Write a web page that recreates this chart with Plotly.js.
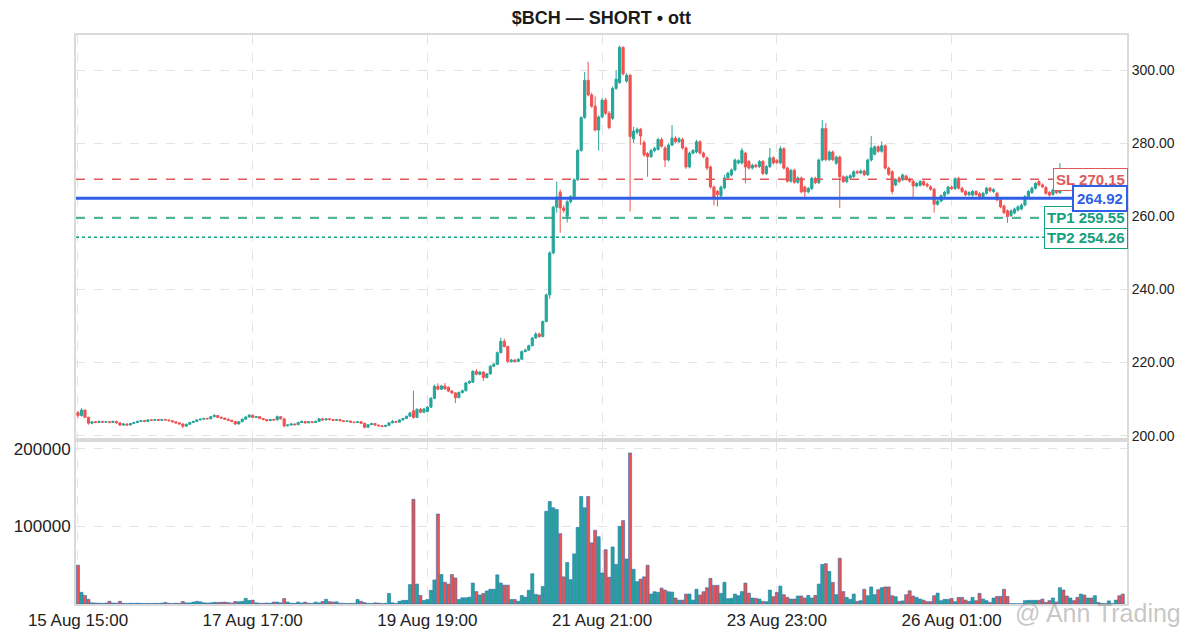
<!DOCTYPE html>
<html><head><meta charset="utf-8">
<script src="https://cdn.plot.ly/plotly-3.0.1.min.js"></script>
<style>html,body{margin:0;padding:0;background:#fff}#chart{width:1186px;height:638px}</style>
</head><body><div id="chart"></div>
<script>
// Hourly candles, hour 0 = 15 Aug 15:00
const tickHours = [0, 50, 100, 150, 200, 250];
const tickLabels = ["15 Aug 15:00","17 Aug 17:00","19 Aug 19:00","21 Aug 21:00","23 Aug 23:00","26 Aug 01:00"];

const open = [
206.3,205.5,207.0,205.0,203.4,203.8,203.6,203.9,203.7,203.8,
203.6,203.9,203.5,202.9,203.2,202.9,203.3,203.6,203.9,204.1,
203.9,204.3,204.2,204.4,204.2,204.4,204.3,204.1,203.8,203.5,
203.2,202.6,203.1,203.6,203.9,204.3,204.5,204.7,204.6,205.2,
205.5,205.0,204.8,204.5,204.2,203.9,203.2,203.8,204.5,205.1,
205.6,205.0,205.2,204.7,204.4,204.1,204.4,204.3,205.2,204.6,
202.7,202.9,203.2,203.0,203.6,203.9,203.5,203.8,203.6,203.9,
204.6,204.3,204.6,204.4,204.2,204.4,204.1,203.9,204.0,203.7,
203.6,203.8,203.4,202.3,203.0,203.3,202.9,202.7,202.5,202.8,
203.5,203.9,203.7,204.3,204.7,205.3,206.8,205.0,207.2,206.4,
206.6,207.8,210.2,213.5,212.7,213.6,213.2,212.2,211.7,210.4,
211.8,212.3,214.4,214.6,217.6,216.8,217.4,215.9,216.9,219.0,
219.5,222.7,225.8,224.4,220.3,220.7,220.3,220.9,223.0,223.4,
224.6,226.7,227.8,227.1,231.2,238.5,250.0,262.5,266.6,262.3,
260.0,264.0,265.4,270.0,278.0,287.0,297.2,293.2,290.1,283.6,
287.2,291.8,288.2,286.8,295.0,296.6,306.2,297.0,298.6,281.2,
283.0,283.8,280.2,277.2,276.3,278.0,278.3,281.0,278.7,275.4,
279.5,281.4,280.4,281.0,278.7,273.5,277.3,277.6,280.4,277.3,
276.0,273.5,268.0,266.8,265.6,267.8,270.5,271.3,272.7,274.6,
274.6,277.3,275.0,273.2,274.0,273.6,275.0,271.7,273.6,276.0,
275.3,274.6,278.5,273.2,269.6,272.6,269.3,270.5,268.0,266.7,
267.6,270.4,269.2,275.4,284.0,275.5,277.6,274.5,276.2,270.8,
269.5,270.5,270.9,272.2,271.9,272.4,271.4,275.4,277.0,279.0,
277.8,279.3,273.2,272.2,268.6,270.5,270.0,271.0,270.2,269.6,
268.3,268.5,269.5,268.8,268.1,267.4,263.3,264.2,265.6,266.3,
268.0,267.6,270.4,267.7,266.8,265.9,265.8,266.8,266.2,265.4,
266.3,267.7,266.8,266.3,264.5,262.8,261.5,260.2,260.9,261.7,
262.0,263.1,265.4,266.5,267.7,269.5,268.6,267.9,266.5,266.0,
267.2,266.5,268.5,268.2,267.6,268.0,267.3,266.8,267.2,266.5,
266.9,266.2,266.6,265.9,266.3,265.6,266.0,265.3,265.7,265.1];

const high = [
206.8,207.5,207.2,205.2,204.0,204.0,204.1,204.0,204.0,204.0,
204.1,204.1,203.6,203.4,203.3,203.5,203.8,204.1,204.3,204.2,
204.5,204.5,204.6,204.5,204.6,204.6,204.4,204.2,203.9,203.6,
203.3,203.3,203.8,204.1,204.5,204.7,204.9,204.9,205.4,205.9,
205.6,205.2,204.9,204.7,204.3,204.0,204.0,204.7,205.3,205.9,
205.7,205.4,205.3,204.8,204.5,204.6,204.6,205.5,205.3,204.7,
203.1,203.4,203.3,203.8,204.1,204.0,204.0,203.9,204.1,204.8,
204.7,204.8,204.7,204.5,204.6,204.5,204.2,204.2,204.1,203.9,
204.0,203.9,203.5,203.2,203.5,203.4,203.0,202.8,203.0,203.7,
204.3,204.0,204.5,204.9,205.5,206.5,212.3,207.5,207.6,207.6,
208.1,210.6,214.0,214.3,213.9,214.4,213.5,212.5,211.9,212.1,
212.6,214.7,215.2,217.9,218.2,217.7,217.6,217.2,219.3,219.9,
223.0,226.8,226.5,224.6,221.0,220.9,221.2,223.3,223.8,224.9,
227.0,228.3,228.2,231.5,238.9,250.4,262.9,269.5,267.3,263.0,
264.4,265.8,270.4,278.4,287.4,299.5,302.3,293.8,292.8,287.6,
292.3,292.4,288.8,295.5,300.0,306.7,306.5,299.2,299.0,284.5,
284.3,284.2,280.8,277.6,278.5,279.0,281.5,281.6,279.2,280.0,
285.0,281.9,281.7,281.5,279.1,277.7,278.4,280.9,280.8,277.7,
276.4,273.9,268.4,267.2,268.4,271.3,272.2,273.1,275.8,275.6,
278.7,277.7,275.4,274.4,274.4,275.4,275.4,274.0,278.7,276.4,
275.7,279.2,278.9,273.6,273.0,273.0,270.9,270.9,268.4,268.0,
270.8,270.8,275.8,286.3,285.5,278.0,278.0,276.6,276.6,271.2,
271.2,271.5,272.6,272.6,272.8,272.8,275.8,282.0,279.4,279.4,
280.5,279.7,273.6,272.6,270.4,270.9,271.7,271.4,270.6,270.0,
269.4,269.9,269.9,269.2,268.5,267.8,264.6,266.0,267.0,268.4,
268.4,270.7,270.8,268.1,267.2,266.9,267.2,267.2,266.6,266.7,
268.1,268.1,267.7,266.7,264.9,263.2,261.9,261.9,262.4,263.0,
263.5,265.8,267.2,268.1,269.4,269.9,269.0,268.3,266.9,267.6,
267.6,274.6,268.9,268.6,268.4,268.4,267.7,267.6,267.6,267.3,
267.3,267.0,267.0,266.7,266.7,266.4,266.4,266.1,266.1,265.5];

const low = [
204.9,205.2,204.8,203.0,203.1,203.4,203.5,203.5,203.5,203.4,
203.5,203.3,202.6,202.7,202.7,202.8,203.2,203.5,203.8,203.7,
203.8,204.0,204.1,204.0,204.1,204.1,203.9,203.6,203.3,203.0,
202.1,202.5,203.0,203.5,203.8,204.2,204.4,204.4,204.5,205.0,
204.8,204.6,204.3,204.0,203.7,202.9,203.1,203.7,204.4,205.0,
204.8,204.9,204.5,204.2,203.9,204.0,204.1,204.2,204.4,202.3,
202.5,202.8,202.8,202.9,203.5,203.3,203.4,203.4,203.5,203.8,
204.1,204.2,204.2,204.0,204.1,203.9,203.7,203.8,203.5,203.4,
203.5,203.2,202.0,202.2,202.9,202.7,202.5,202.3,202.4,202.7,
203.4,203.5,203.6,204.2,204.6,205.2,204.6,204.8,206.1,206.2,
206.4,207.6,210.0,212.4,212.5,212.6,211.9,211.4,208.9,210.2,
211.5,212.1,214.1,214.4,216.5,216.5,215.0,215.7,216.7,218.7,
219.3,222.5,224.1,219.9,220.0,220.0,220.1,220.7,222.8,223.2,
224.4,226.5,226.8,226.9,231.0,237.5,249.6,261.0,255.5,261.0,
258.3,263.5,265.1,269.7,277.7,286.7,292.8,289.7,283.2,278.0,
286.8,287.7,283.8,286.4,294.6,296.2,298.5,296.5,261.3,280.0,
282.4,279.5,276.3,270.8,276.0,277.5,278.0,278.8,273.5,275.0,
279.2,280.0,280.0,278.3,273.0,273.1,276.9,277.2,276.9,275.9,
272.6,267.6,263.0,262.7,265.2,267.4,270.1,270.9,272.3,274.2,
274.2,269.0,272.8,272.8,273.2,273.2,271.3,271.3,273.2,274.2,
274.3,274.2,272.8,269.2,269.2,268.9,268.9,266.3,265.3,266.3,
267.2,268.8,268.8,275.0,275.1,275.1,275.1,274.1,262.3,269.1,
269.1,270.1,270.5,271.5,271.5,271.0,271.0,275.0,276.6,277.4,
277.4,272.8,271.1,266.0,268.2,269.1,269.6,269.8,269.2,265.3,
267.9,268.1,268.2,267.9,267.0,261.0,262.9,263.8,265.2,265.9,
267.2,267.2,267.3,266.4,265.5,265.5,265.4,265.6,264.5,265.0,
265.9,266.6,266.4,264.1,262.2,260.6,258.2,259.8,260.5,261.3,
261.6,262.7,265.0,266.1,267.3,268.2,267.7,265.9,265.4,265.6,
266.1,266.1,267.8,267.2,267.2,266.9,266.4,266.4,266.1,266.1,
265.8,265.8,265.5,265.5,265.2,265.2,264.9,264.9,264.7,264.6];

const close = [
205.5,207.0,205.0,203.4,203.8,203.6,203.9,203.7,203.8,203.6,
203.9,203.5,202.9,203.2,202.9,203.3,203.6,203.9,204.1,203.9,
204.3,204.2,204.4,204.2,204.4,204.3,204.1,203.8,203.5,203.2,
202.6,203.1,203.6,203.9,204.3,204.5,204.7,204.6,205.2,205.5,
205.0,204.8,204.5,204.2,203.9,203.2,203.8,204.5,205.1,205.6,
205.0,205.2,204.7,204.4,204.1,204.4,204.3,205.2,204.6,202.7,
202.9,203.2,203.0,203.6,203.9,203.5,203.8,203.6,203.9,204.6,
204.3,204.6,204.4,204.2,204.4,204.1,203.9,204.0,203.7,203.6,
203.8,203.4,202.3,203.0,203.3,202.9,202.7,202.5,202.8,203.5,
203.9,203.7,204.3,204.7,205.3,206.2,205.0,207.2,206.4,207.3,
207.8,210.2,213.5,212.7,213.6,212.8,212.2,211.7,210.4,211.8,
212.3,214.4,214.8,217.6,216.8,217.4,215.9,216.9,219.0,219.5,
222.7,225.8,224.4,220.3,220.7,220.3,220.9,223.0,223.4,224.6,
226.7,227.8,227.1,231.2,238.5,250.0,262.5,265.3,262.3,261.6,
264.0,265.4,270.0,278.0,287.0,297.2,293.2,290.1,283.6,287.2,
291.8,288.2,284.3,295.0,297.5,306.2,299.0,298.6,281.8,283.3,
283.8,282.0,276.8,276.3,278.0,278.6,281.0,279.2,275.4,279.5,
281.4,280.4,281.2,278.7,273.5,277.3,278.0,280.4,277.3,276.3,
273.2,268.0,265.3,266.0,268.0,270.5,271.8,272.7,275.4,275.2,
278.0,273.5,273.2,274.0,273.6,275.0,271.7,273.6,276.0,274.6,
274.7,278.5,273.2,269.6,272.6,269.3,270.5,266.7,266.7,267.6,
270.4,269.2,275.4,284.0,275.5,277.6,275.5,276.2,270.8,269.5,
270.8,271.1,272.2,271.9,272.4,271.4,275.4,278.7,279.0,277.8,
279.3,273.2,271.5,266.8,270.0,269.5,271.3,270.2,269.6,268.3,
269.0,269.5,268.6,268.3,267.4,263.3,264.2,265.6,266.6,268.0,
267.6,270.3,267.7,266.8,265.9,266.5,266.8,266.0,265.4,266.3,
267.7,267.0,267.3,264.5,262.6,261.0,259.9,261.5,262.0,262.6,
263.1,265.4,266.8,267.7,269.0,268.6,268.1,266.3,265.8,267.2,
266.5,268.5,268.2,267.6,268.0,267.3,266.8,267.2,266.5,266.9,
266.2,266.6,265.9,266.3,265.6,266.0,265.3,265.7,265.1,264.92];

// volume in thousands
const volumeK = [
50,15,11,6,1.5,1.2,1.0,0.8,1.2,3.5,
1.2,1.0,3.5,0.8,0.6,1.0,0.8,1.0,0.9,0.7,
0.8,0.6,0.9,0.7,1.1,2.0,0.9,0.6,1.0,0.8,
3.2,1.5,1.4,2.5,3.5,2.8,1.6,1.2,1.5,2.2,
2.0,2.2,2.5,1.8,1.2,3.2,2.8,3.4,7.2,4.5,
5.0,1.5,1.0,0.8,1.2,1.0,2.5,2.5,1.5,7.0,
2.5,1.0,0.8,2.5,1.2,2.5,1.0,0.8,2.4,1.5,
3.2,6.0,3.0,2.5,2.8,1.0,0.8,0.6,0.8,0.7,
5.8,3.5,1.8,0.8,0.6,1.5,1.2,0.7,0.9,13.6,
1.5,0.8,3.5,4.7,4.7,25,135,25.7,11,4.5,
5.8,17.7,31,116,38,28,25.7,38,33.6,5.8,
8,8,8.8,27,16,11.5,13.7,16.8,19,19,
37.6,27,24.3,24.3,5.8,5.8,3.5,11,8.8,17.7,
39,12.4,11.5,22.6,119.5,132,124,121.7,90.7,35,
53.5,31.4,64.6,98.7,138.5,124,138.5,78.8,95,86.7,
40,70,34.5,73.5,51,100,107.5,58,194.7,44.7,
28.8,32,35,50,12.8,15.8,15,20.5,18,15.8,
15.4,7.7,5,5,12.8,12.8,5,19,11.5,15.8,
21,33,24,24,13.7,28,6.8,7.3,12.8,10.7,
16,27,14,7.7,7.3,6.4,3.4,3,18,9.4,
15,23,12,8.5,6.4,6.4,10.3,10.3,7.7,11,
7.7,11,25.6,51,52,42,27.8,12,59,16,
8.5,6,12.8,3.4,4.3,19,10.7,22,12,18.4,
21,22,22,10.7,9.4,3.4,4,12,17,10.3,
8.5,6.4,5,3,3,10.7,14,4.3,6,6,
7.3,3,8.5,8.5,5,3.4,8.5,4.3,13.7,6.4,
4.3,2,7.7,9.8,9.8,19,9.8,0.4,0.3,0.3,
0.3,4.3,4.7,4.7,4.7,4.7,6.4,2,4.3,7.7,
2.5,21,18,10.3,7.7,4.3,8.5,12.8,11.5,7.7,
7.7,10.7,2,0.8,0.5,4,0.5,5,10.7,12.8];

const slPrice = 270.15, entryPrice = 264.92, tp1Price = 259.55, tp2Price = 254.26;

const n = Math.min(open.length, high.length, low.length, close.length, volumeK.length);
const hours = [];
for (let i = 0; i < n; i++) hours.push(i);
const volume = volumeK.slice(0, n).map(v => v * 1000);

const UP = '#26a69a', DOWN = '#ef5350';
const volColors = hours.map(i => close[i] >= open[i] ? UP : DOWN);

const FONT = 'Liberation Sans, Arial, sans-serif';
const GRID = '#e4e4e4', FRAME = '#dadada';
const RED = '#e05a5a', BLUE = '#2f5fe6', GREEN = '#13a07c';

const candles = {
  type: 'candlestick', x: hours, open: open.slice(0,n), high: high.slice(0,n), low: low.slice(0,n), close: close.slice(0,n),
  xaxis: 'x2', yaxis: 'y',
  increasing: {line: {color: UP, width: 1}, fillcolor: UP},
  decreasing: {line: {color: DOWN, width: 1}, fillcolor: DOWN},
  whiskerwidth: 0, hoverinfo: 'skip', showlegend: false
};
const vols = {
  type: 'bar', x: hours, y: volume, xaxis: 'x', yaxis: 'y2',
  marker: {color: volColors, line: {color: 'rgba(35,110,175,0.85)', width: 0.7}},
  hoverinfo: 'skip', showlegend: false
};

const xr = [-0.57, 300.2];
const levelShape = (y, color, dash, width) => ({
  type: 'line', xref: 'paper', x0: 0, x1: 1, yref: 'y', y0: y, y1: y,
  line: {color: color, dash: dash, width: width}, layer: 'above'
});
const levelLabel = (y, text, color, bw, pad) => ({
  xref: 'paper', x: 1, xanchor: 'right', xshift: 1, yref: 'y', y: y, yanchor: 'middle',
  text: '<b>' + text + '</b>', showarrow: false,
  font: {family: FONT, size: 15, color: color},
  bgcolor: '#ffffff', bordercolor: color, borderwidth: bw, borderpad: pad
});

const layout = {
  width: 1186, height: 638,
  margin: {l: 76, r: 59, t: 35, b: 34},
  paper_bgcolor: '#ffffff', plot_bgcolor: '#ffffff',
  font: {family: FONT, color: '#222'},
  title: {text: '<b>$BCH — SHORT • ott</b>', x: 0.507, xanchor: 'center', y: 0.972, yanchor: 'middle',
          font: {family: FONT, size: 18, color: '#1a1a1a'}},
  showlegend: false, hovermode: false, bargap: 0.12, boxgap: 0.12,
  xaxis: {
    anchor: 'y2', range: xr, tickmode: 'array', tickvals: tickHours, ticktext: tickLabels,
    tickfont: {size: 17, color: '#222'}, ticks: '',
    showgrid: true, gridcolor: GRID, griddash: 'dash', gridwidth: 1,
    showline: true, linecolor: FRAME, linewidth: 2, mirror: true, zeroline: false,
    rangeslider: {visible: false}
  },
  xaxis2: {
    anchor: 'y', matches: 'x', range: xr, tickmode: 'array', tickvals: tickHours, showticklabels: false, ticks: '',
    showgrid: true, gridcolor: GRID, griddash: 'dash', gridwidth: 1,
    showline: true, linecolor: FRAME, linewidth: 2, mirror: true, zeroline: false,
    rangeslider: {visible: false}
  },
  yaxis: {
    anchor: 'x2', domain: [0.292, 1], side: 'right', range: [199.4, 309.6],
    tickmode: 'array', tickvals: [200, 220, 240, 260, 280, 300], tickformat: '.2f',
    tickfont: {size: 14, color: '#222'}, ticks: '',
    showgrid: true, gridcolor: GRID, griddash: 'dash', gridwidth: 1,
    showline: true, linecolor: FRAME, linewidth: 2, mirror: true, zeroline: false
  },
  yaxis2: {
    anchor: 'x', domain: [0, 0.285], side: 'left', range: [0, 209000],
    tickmode: 'array', tickvals: [100000, 200000], ticktext: ['100000', '200000'],
    tickfont: {size: 17, color: '#222'}, ticks: '',
    showgrid: true, gridcolor: GRID, griddash: 'dash', gridwidth: 1,
    showline: true, linecolor: FRAME, linewidth: 2, mirror: true, zeroline: false
  },
  shapes: [
    levelShape(slPrice, RED, 'dash', 1.6),
    levelShape(entryPrice, BLUE, 'solid', 3),
    levelShape(tp1Price, GREEN, 'dash', 1.6),
    levelShape(tp2Price, GREEN, 'dot', 1.6)
  ],
  annotations: [
    levelLabel(slPrice, 'SL ' + slPrice.toFixed(2), RED, 1, 2),
    levelLabel(tp2Price, 'TP2 ' + tp2Price.toFixed(2), GREEN, 1, 2),
    levelLabel(tp1Price, 'TP1 ' + tp1Price.toFixed(2), GREEN, 1, 2),
    levelLabel(entryPrice, entryPrice.toFixed(2), BLUE, 2, 3),
    {xref: 'paper', yref: 'paper', x: 0.892, y: -0.016, xanchor: 'left', yanchor: 'middle',
     text: '@ Ann Trading', showarrow: false,
     font: {family: FONT, size: 25, color: 'rgba(150,150,150,0.55)'}}
  ]
};

Plotly.newPlot('chart', [vols, candles], layout, {displayModeBar: false, staticPlot: true});
</script>
</body></html>
